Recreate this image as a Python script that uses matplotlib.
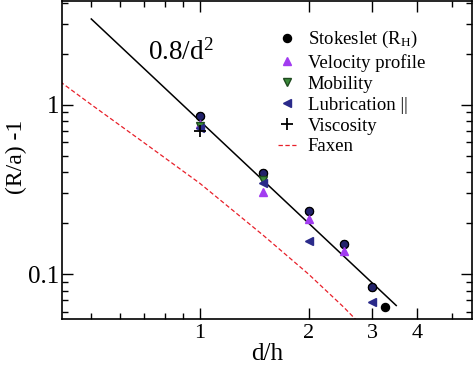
import matplotlib
matplotlib.use("Agg")
import matplotlib.pyplot as plt

plt.rcParams['font.family'] = ['Liberation Serif', 'DejaVu Serif']
plt.rcParams['mathtext.fontset'] = 'custom'
plt.rcParams['mathtext.rm'] = 'Liberation Serif'
plt.rcParams['mathtext.it'] = 'Liberation Serif:italic'

# data
stokes_d = [1.0, 1.5, 2.0, 2.5, 3.0, 3.26]
stokes_v = [0.862, 0.396, 0.236, 0.150, 0.0842, 0.0637]
velo_d = [1.0, 1.5, 2.0, 2.5]
velo_v = [0.77, 0.307, 0.211, 0.137]
mob_d = [1.0, 1.5]
mob_v = [0.752, 0.357]
lub_d = [1.0, 1.5, 2.0, 3.0]
lub_v = [0.73, 0.343, 0.157, 0.0688]
visc_d = [1.0]
visc_v = [0.703]
fit_d = [0.5, 3.5]
fit_v = [3.2, 0.0653]
faxen_d = [0.41, 0.5, 0.7, 1.0, 1.5, 2.0, 2.5, 2.75]
faxen_v = [1.365, 1.0, 0.596, 0.343, 0.169, 0.1, 0.064, 0.052]

fig = plt.figure(figsize=(4.74, 3.70), dpi=100)
ax = fig.add_axes([0.131, 0.138, 0.865, 0.86])

ax.plot(fit_d, fit_v, color='black', lw=1.1)
ax.plot(faxen_d, faxen_v, '--', color='#e8202a', lw=0.9, dashes=(3.5, 2))

ax.plot(stokes_d, stokes_v, 'o', color='black', ms=5.8, label='Stokeslet (R$_\\mathregular{H}$)')
ax.plot(stokes_d[:5], stokes_v[:5], 'o', mfc='#22226a', mec='black', ms=5.8, mew=0.8)
ax.plot(velo_d, velo_v, '^', color='#a23cf0', ms=5.8, label='Velocity profile')
ax.plot(mob_d, mob_v, 'v', mfc='#3a8a3a', mec='#1e4a1e', ms=5.8, label='Mobility')
ax.plot(lub_d, lub_v, '<', color='#2a2a8a', ms=5.2, label='Lubrication ||')
ax.plot(visc_d, visc_v, '+', color='black', ms=8, mew=1.3, label='Viscosity')
ax.plot([], [], '--', color='#e8202a', lw=0.9, dashes=(3.5, 2), label='Faxen')

ax.set_xscale('log')
ax.set_yscale('log')
ax.set_xlim(0.415, 5.68)
ax.set_ylim(0.0544, 4.1)
ax.set_xticks([1, 2, 3, 4])
ax.set_xticklabels(['1', '2', '3', '4'])
ax.set_yticks([0.1, 1])
ax.set_yticklabels(['0.1', '1'])

ax.tick_params(which='both', direction='in', top=True, right=True, width=1)
ax.tick_params(which='major', length=8)
ax.tick_params(which='minor', length=4.5)
ax.tick_params(axis='x', labelsize=16, pad=4)
ax.tick_params(axis='y', labelsize=18, pad=2)
for s in ax.spines.values():
    s.set_linewidth(1.2)

ax.set_xlabel('d/h', fontsize=18, labelpad=0)
ax.set_ylabel('(R/a) -1', fontsize=17)
ax.yaxis.set_label_coords(-0.085, 0.51)

ax.text(0.21, 0.815, '0.8/d$^\\mathregular{2}$', transform=ax.transAxes, fontsize=19.5)

ax.legend(loc='upper left', bbox_to_anchor=(0.503, 0.94), frameon=False,
          fontsize=13.5, handlelength=1.0, handletextpad=0.6, labelspacing=0.2,
          borderpad=0, numpoints=1)

fig.savefig('out.png', dpi=100)
